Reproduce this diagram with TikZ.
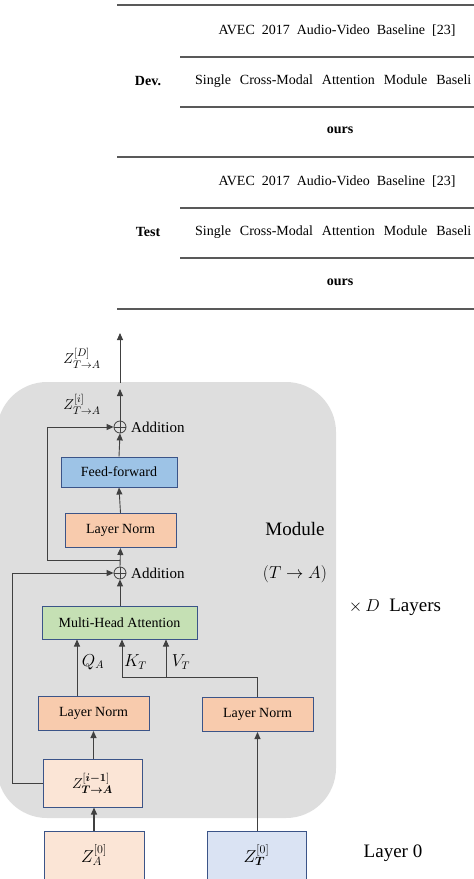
\documentclass[tikz,border=0pt]{standalone}
\usepackage{fontspec}
\setmainfont{Liberation Serif}
\usepackage{bm}
\usetikzlibrary{arrows.meta}
\definecolor{bggray}{HTML}{DEDEDE}
\definecolor{lnfill}{HTML}{F8CBAD}
\definecolor{zafill}{HTML}{FBE5D6}
\definecolor{fffill}{HTML}{9DC3E6}
\definecolor{mhafill}{HTML}{C5E0B4}
\definecolor{ztfill}{HTML}{DAE3F3}
\definecolor{bdr}{HTML}{3B5488}
\definecolor{linec}{HTML}{404040}
\tikzset{
  tline/.style={draw=black!65, line width=1.2pt},
  ttext/.style={font=\fontsize{14}{16}\selectfont, inner sep=0pt},
  box/.style={draw=bdr, line width=1pt, inner sep=0pt, font=\fontsize{14}{16}\selectfont},
  lnbox/.style={box, fill=lnfill, minimum width=111pt, minimum height=34pt},
  addc/.style={draw=linec, circle, line width=0.8pt, minimum size=12pt, inner sep=0pt},
  arr/.style={draw=linec, line width=0.9pt, -{Triangle[length=7pt,width=6pt]}},
  ln/.style={draw=linec, line width=0.9pt},
  side/.style={font=\fontsize{19}{22}\selectfont, inner sep=0pt},
  lbl/.style={font=\fontsize{15}{17}\selectfont, inner sep=0pt}
}
\begin{document}
\begin{tikzpicture}[x=1pt,y=-1pt]
\useasboundingbox (0,0) rectangle (474,879);
\clip (0,0) rectangle (474,879);
% table
\draw[tline] (117,5) -- (474,5);
\draw[tline] (180,57) -- (474,57);
\draw[tline] (180,107) -- (474,107);
\draw[tline] (117,157) -- (474,157);
\draw[tline] (180,208) -- (474,208);
\draw[tline] (180,258) -- (474,258);
\draw[tline] (117,309) -- (474,309);
\node[ttext] (r1) at (337,31) {AVEC\hspace{0.5em}2017\hspace{0.5em}Audio-Video\hspace{0.5em}Baseline\hspace{0.5em}[23]};
\node[ttext,font=\fontsize{14}{16}\selectfont\bfseries] (dev) at (148,81) {Dev.};
\node[ttext,anchor=west] (r2) at (195,81) {Single\hspace{0.64em}Cross-Modal\hspace{0.64em}Attention\hspace{0.64em}Module\hspace{0.64em}Baseli};
\node[ttext,font=\fontsize{14}{16}\selectfont\bfseries] (r3) at (340,130) {ours};
\node[ttext] (r4) at (337,182) {AVEC\hspace{0.5em}2017\hspace{0.5em}Audio-Video\hspace{0.5em}Baseline\hspace{0.5em}[23]};
\node[ttext,font=\fontsize{14}{16}\selectfont\bfseries] (test) at (148,232) {Test};
\node[ttext,anchor=west] (r5) at (195,232) {Single\hspace{0.64em}Cross-Modal\hspace{0.64em}Attention\hspace{0.64em}Module\hspace{0.64em}Baseli};
\node[ttext,font=\fontsize{14}{16}\selectfont\bfseries] (r6) at (340,282) {ours};
% module background
\fill[bggray, rounded corners=50pt] (-3,382) rectangle (336,818);
% nodes
\node[addc] (add1) at (120,427) {};
\node[addc] (add2) at (120,573) {};
\draw[draw=linec,line width=0.8pt] (add1.north) -- (add1.south) (add1.west) -- (add1.east);
\draw[draw=linec,line width=0.8pt] (add2.north) -- (add2.south) (add2.west) -- (add2.east);
\node[box, fill=fffill, minimum width=116pt, minimum height=30pt] (ff) at (119,472) {Feed-forward};
\node[lnbox] (ln3) at (120.5,530.5) {Layer Norm};
\node[box, fill=mhafill, minimum width=155pt, minimum height=33pt] (mha) at (119.5,622.5) {Multi-Head Attention};
\node[lnbox] (ln1) at (93.5,713.5) {Layer Norm};
\node[lnbox] (ln2) at (257.5,714.5) {Layer Norm};
\node[box, fill=zafill, minimum width=99pt, minimum height=48pt] (zi) at (92.5,783) {\fontsize{15}{17}\selectfont$Z^{[\bm{i-1}]}_{\bm{T\rightarrow A}}$};
\node[box, fill=zafill, minimum width=100pt, minimum height=48pt] (za) at (94,855) {\fontsize{18}{20}\selectfont$Z_A^{[0]}$};
\node[box, fill=ztfill, minimum width=99pt, minimum height=48pt] (zt) at (256.5,855) {\fontsize{18}{20}\selectfont$Z_{\bm{T}}^{[0]}$};
% coordinates
\coordinate (top) at (120,333);
\coordinate (gtop) at (120,383);
\coordinate (zout) at (120,389);
\coordinate (s1) at (120,560);
\coordinate (qx) at (77,0);
\coordinate (kv) at (122,677);
\coordinate (vx) at (166,677);
% connectors
\draw[arr] (gtop) -- (top);
\draw[arr] (add1.north) -- (zout);
\draw[arr] (ff.north) -- (add1.south);
\draw[arr] (ln3.north) -- (ff.south);
\draw[arr] (add2.north) -- (ln3.south);
\draw[arr] (mha.north -| add2) -- (add2.south);
\draw[arr] (s1) -- (47,560) |- (add1.west);
\draw[arr] (zi.west) -| (12,573) -- (add2.west);
\draw[arr] (ln1.north -| qx) -- (mha.south -| qx);
\draw[arr] (ln2.north) |- (kv) -- (mha.south -| kv);
\draw[arr] (vx) -- (mha.south -| vx);
\draw[arr] (zi.north -| ln1) -- (ln1.south);
\draw[arr, line width=1.3pt] (za.north) -- (zi.south -| za);
\draw[arr] (zt.north -| ln2) -- (ln2.south);
% labels
\node[lbl] (zd) at (82,358) {$Z^{[D]}_{T\rightarrow A}$};
\node[lbl] (zil) at (82,404) {$Z^{[i]}_{T\rightarrow A}$};
\node[lbl, anchor=west] (a1) at (131,427) {Addition};
\node[lbl, anchor=west] (a2) at (131,573) {Addition};
\node[lbl, font=\fontsize{16}{18}\selectfont] (q) at (93,662) {$Q_A$};
\node[lbl, font=\fontsize{16}{18}\selectfont] (k) at (135.5,662) {$K_T$};
\node[lbl, font=\fontsize{16}{18}\selectfont] (v) at (181,662) {$V_T$};
\node[side] (mod) at (295,529) {Module};
\node[side] (ta) at (295,574) {$(T\rightarrow A)$};
\node[side] (dl) at (395,607) {$\times\,D$\ \ Layers};
\node[side] (l0) at (393,853) {Layer 0};
\end{tikzpicture}
\end{document}
